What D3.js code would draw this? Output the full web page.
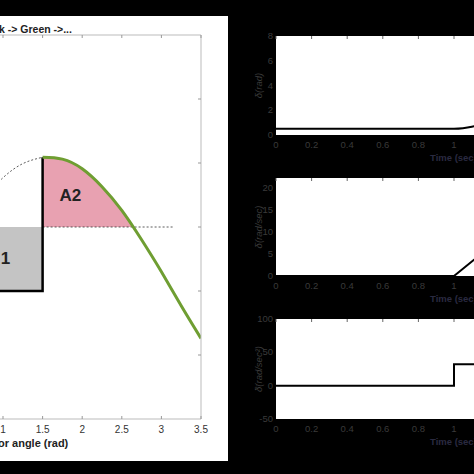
<!DOCTYPE html><html><head><script src="https://cdn.jsdelivr.net/npm/d3@7"></script>
<style>body{margin:0;background:#000}svg{display:block;font-family:"Liberation Sans",Arial,sans-serif}</style></head><body>
<svg id="c" width="474" height="474"></svg>
<script>
// ---- left chart data ----
const angleTicks=[1,1.5,2,2.5,3,3.5];
const prefault=[[0,0],[0.25,0.52],[0.5,1.0],[0.75,1.43],[1.0,1.77],[1.25,1.99],[1.5,2.09]];
const postfault=[[1.5,2.09],[1.75,2.06],[2.0,1.91],[2.25,1.63],[2.5,1.26],[2.75,0.80],[3.0,0.30],[3.25,-0.23],[3.5,-0.74]];
const areaA2=[[1.5,2.09],[1.75,2.06],[2.0,1.91],[2.25,1.63],[2.5,1.26],[2.65,1.0]];
const Pm=1.0, clearAngle=1.5, dashEnd=3.15;
const yTicksL=[-1,0,1,2,3];
// ---- right charts data ----
const timeTicks=[0,0.2,0.4,0.6,0.8,1];
const deltaT=[[0,0.5],[1,0.5],[1.05,0.54],[1.1,0.66],[1.15,0.87],[1.2,1.16]];
const omegaT=[[0,0],[1,0],[1.2,6.6]];
const accelT=[[0,0],[1,0],[1,32],[1.2,32]];

const svg=d3.select("#c");
svg.append("rect").attr("x",0).attr("y",16).attr("width",228).attr("height",445).attr("fill","#fff");
const x=d3.scaleLinear().domain([1,3.5]).range([3,201]);
const y=d3.scaleLinear().domain([-2,4]).range([419,35]);
const g=svg.append("g");
g.append("clipPath").attr("id","cl").append("rect").attr("x",0).attr("y",35).attr("width",201).attr("height",384);
const p=g.append("g").attr("clip-path","url(#cl)");
p.append("rect").attr("x",x(-1)).attr("y",y(Pm)).attr("width",x(clearAngle)-x(-1)).attr("height",y(0)-y(Pm)).attr("fill","#c4c4c4");
p.append("path").datum(areaA2).attr("fill","#e8a1b1")
 .attr("d",d3.area().x(d=>x(d[0])).y0(y(Pm)).y1(d=>y(d[1])).curve(d3.curveNatural));
p.append("path").datum(prefault).attr("fill","none").attr("stroke","#333").attr("stroke-dasharray","2,2").attr("stroke-width",0.8)
 .attr("d",d3.line().x(d=>x(d[0])).y(d=>y(d[1])).curve(d3.curveNatural));
p.append("line").attr("x1",x(clearAngle)).attr("x2",x(dashEnd)).attr("y1",y(Pm)).attr("y2",y(Pm)).attr("stroke","#333").attr("stroke-dasharray","2,2").attr("stroke-width",0.8);
p.append("path").datum([[-1,0],[clearAngle,0],[clearAngle,2.09]]).attr("fill","none").attr("stroke","#000").attr("stroke-width",2.5)
 .attr("d",d3.line().x(d=>x(d[0])).y(d=>y(d[1])));
p.append("path").datum(postfault).attr("fill","none").attr("stroke","#6f9e32").attr("stroke-width",3)
 .attr("d",d3.line().x(d=>x(d[0])).y(d=>y(d[1])).curve(d3.curveNatural));
g.append("line").attr("x1",0).attr("x2",201).attr("y1",35).attr("y2",35).attr("stroke","#bbb");
g.append("line").attr("x1",201).attr("x2",201).attr("y1",35).attr("y2",419).attr("stroke","#bbb");
g.append("line").attr("x1",0).attr("x2",201).attr("y1",419).attr("y2",419).attr("stroke","#bbb");
angleTicks.forEach(t=>{g.append("line").attr("x1",x(t)).attr("x2",x(t)).attr("y1",35).attr("y2",38).attr("stroke","#999");
 g.append("line").attr("x1",x(t)).attr("x2",x(t)).attr("y1",419).attr("y2",416).attr("stroke","#999");
 g.append("text").attr("x",x(t)).attr("y",433).attr("text-anchor","middle").attr("font-size",10).attr("fill","#333").text(t);});
yTicksL.forEach(t=>g.append("line").attr("x1",198).attr("x2",201).attr("y1",y(t)).attr("y2",y(t)).attr("stroke","#999"));
g.append("text").attr("x",-2).attr("y",447).attr("font-size",11).attr("font-weight","bold").attr("fill","#222").text("or angle (rad)");
g.append("text").attr("x",-1).attr("y",33).attr("font-size",10.5).attr("font-weight","bold").attr("fill","#222").text("k -> Green ->...");
g.append("text").attr("x",x(1.85)).attr("y",y(1.4)).attr("text-anchor","middle").attr("font-size",17).attr("font-weight","bold").attr("fill","#222").text("A2");
g.append("text").attr("x",x(1.03)).attr("y",y(0.42)).attr("text-anchor","middle").attr("font-size",17).attr("font-weight","bold").attr("fill","#222").text("1");

const xt=d3.scaleLinear().domain([0,1]).range([276,454]);
function panel(top,bot,dom,ticks,data,label,curve){
 const yy=d3.scaleLinear().domain(dom).range([bot,top]);
 svg.append("rect").attr("x",276).attr("y",top).attr("width",200).attr("height",bot-top).attr("fill","#fff");
 timeTicks.forEach(t=>{svg.append("line").attr("x1",xt(t)).attr("x2",xt(t)).attr("y1",top).attr("y2",top+3).attr("stroke","#666");
  svg.append("text").attr("x",xt(t)).attr("y",bot+13).attr("text-anchor","middle").attr("font-size",9.5).attr("fill","#3a3a3a").text(t);});
 ticks.forEach(t=>svg.append("text").attr("x",273).attr("y",yy(t)+3).attr("text-anchor","end").attr("font-size",9.5).attr("fill","#3a3a3a").text(t));
 svg.append("text").attr("x",430).attr("y",bot+26).attr("font-size",9.5).attr("font-weight","bold").attr("fill","#2a2a40").text("Time (sec)");
 svg.append("text").attr("transform",`translate(262,${(top+bot)/2}) rotate(-90)`).attr("text-anchor","middle").attr("font-size",9.5).attr("fill","#3a3a3a").attr("font-style","italic").text(label);
 svg.append("clipPath").attr("id","p"+top).append("rect").attr("x",276).attr("y",top).attr("width",200).attr("height",bot-top);
 svg.append("path").datum(data).attr("clip-path",`url(#p${top})`).attr("fill","none").attr("stroke","#000").attr("stroke-width",2)
  .attr("d",d3.line().x(d=>xt(d[0])).y(d=>yy(d[1])).curve(curve));
}
panel(36,135,[0,8],[0,2,4,6,8],deltaT,"δ(rad)",d3.curveMonotoneX);
panel(178,276,[0,22.3],[0,5,10,15,20],omegaT,"δ̇(rad/sec)",d3.curveLinear);
panel(319,419,[-50,100],[-50,0,50,100],accelT,"δ̈(rad/sec²)",d3.curveLinear);
</script></body></html>
